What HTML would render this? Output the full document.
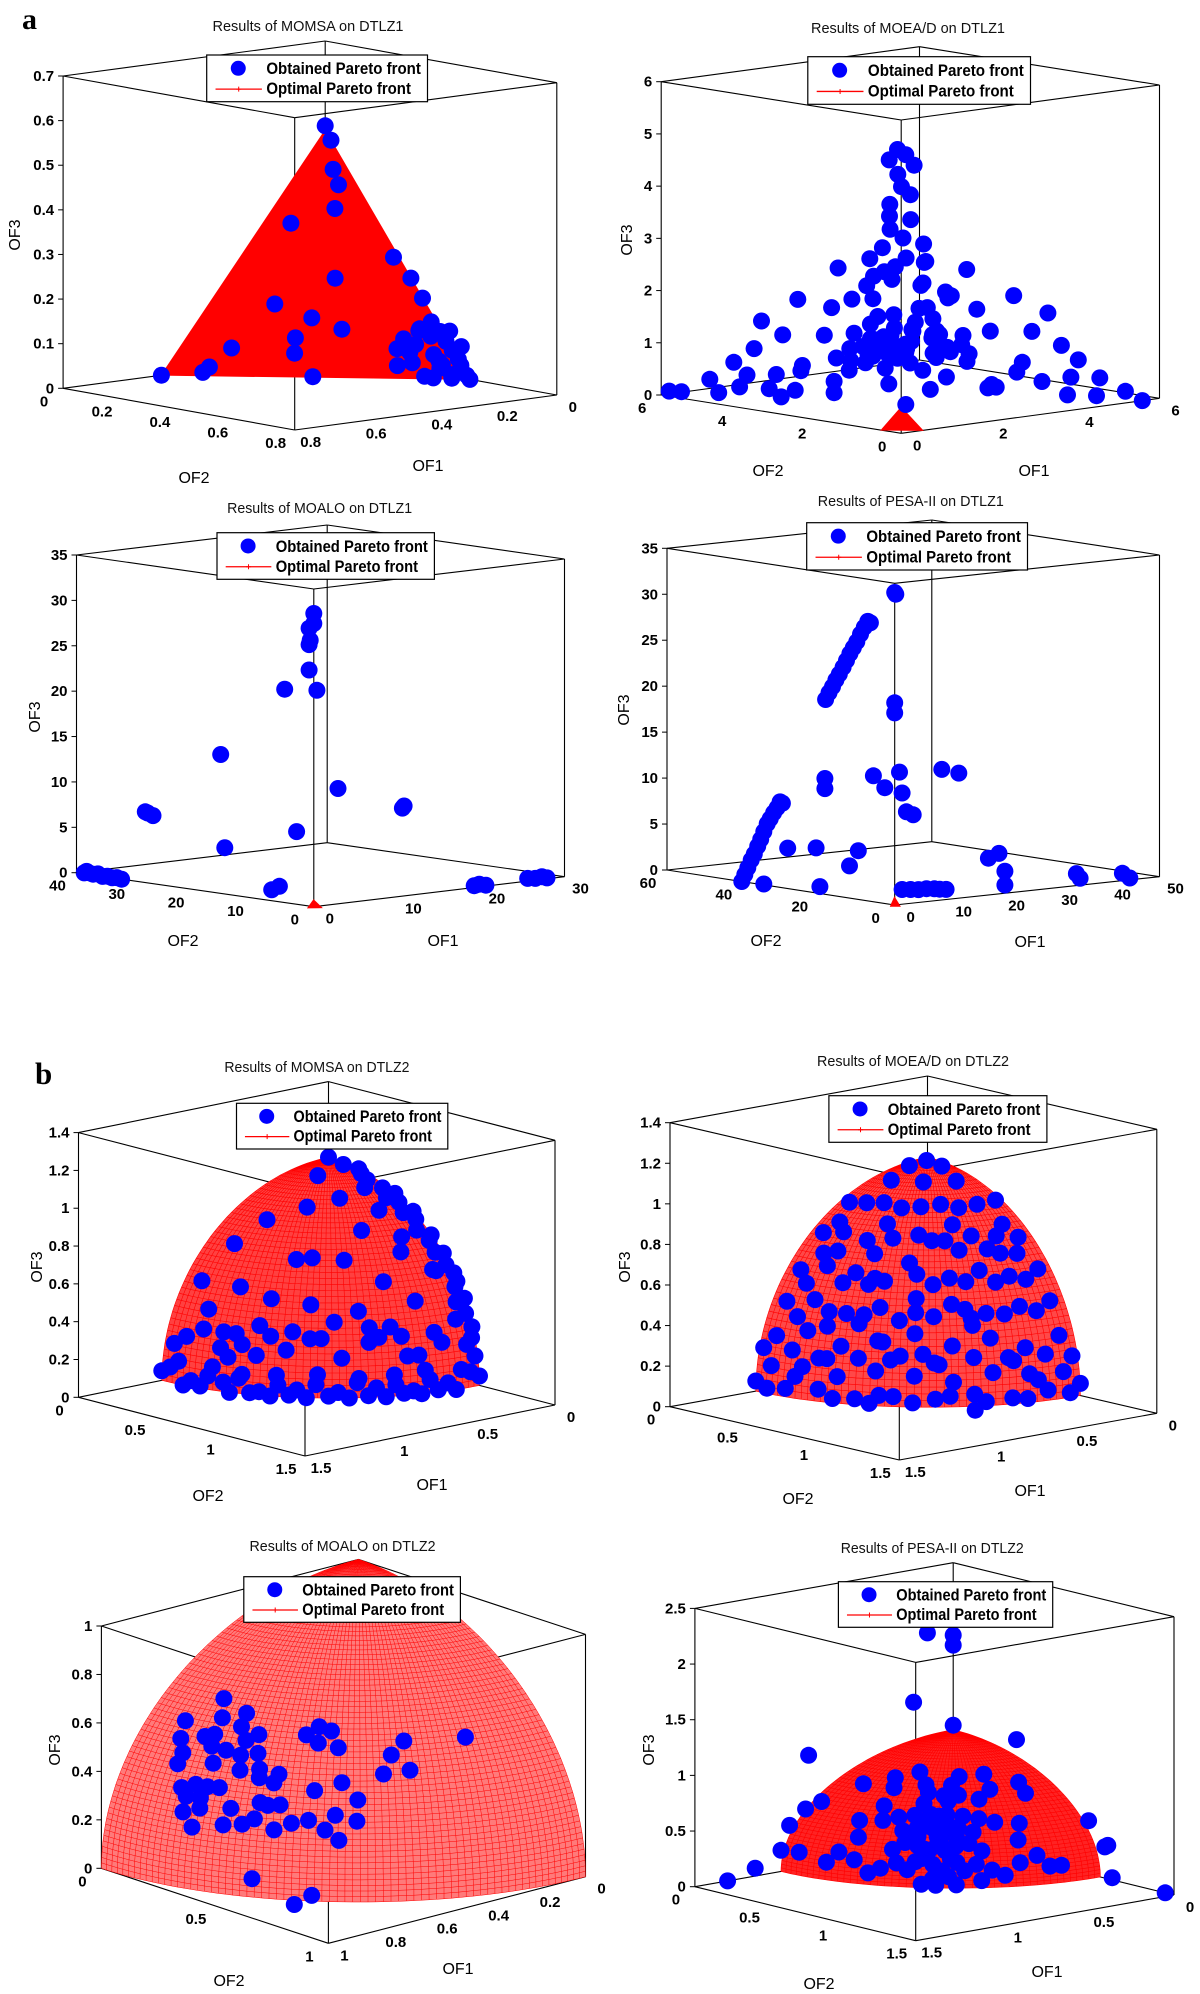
<!DOCTYPE html>
<html><head><meta charset="utf-8"><title>Pareto fronts DTLZ1 DTLZ2</title>
<style>body{margin:0;background:#fff}svg{display:block}</style></head>
<body>
<svg id="fig" xmlns="http://www.w3.org/2000/svg" width="1200" height="1994" viewBox="0 0 1200 1994" font-family="Liberation Sans, Arial, sans-serif">
<rect width="1200" height="1994" fill="#fff"/>
<text x="22" y="29" font-family="Liberation Serif, serif" font-weight="bold" font-size="30">a</text>
<text x="35" y="1084" font-family="Liberation Serif, serif" font-weight="bold" font-size="31">b</text>
</svg>
<script>
// ---------- tick arrays ----------
const a1ZTicks=[0,0.1,0.2,0.3,0.4,0.5,0.6,0.7];
const a1Of1Ticks=[0,0.2,0.4,0.6,0.8];
const a1Of2Ticks=[0,0.2,0.4,0.6,0.8];
const a2ZTicks=[0,1,2,3,4,5,6];
const a2Of1Ticks=[0,2,4,6];
const a2Of2Ticks=[0,2,4,6];
const a3ZTicks=[0,5,10,15,20,25,30,35];
const a3Of1Ticks=[0,10,20,30];
const a3Of2Ticks=[0,10,20,30,40];
const a4ZTicks=[0,5,10,15,20,25,30,35];
const a4Of1Ticks=[0,10,20,30,40,50];
const a4Of2Ticks=[0,20,40,60];
const b1ZTicks=[0,0.2,0.4,0.6,0.8,1,1.2,1.4];
const b1Of1Ticks=[0,0.5,1,1.5];
const b1Of2Ticks=[0,0.5,1,1.5];
const b2ZTicks=[0,0.2,0.4,0.6,0.8,1,1.2,1.4];
const b2Of1Ticks=[0,0.5,1,1.5];
const b2Of2Ticks=[0,0.5,1,1.5];
const b3ZTicks=[0,0.2,0.4,0.6,0.8,1];
const b3Of1Ticks=[0,0.2,0.4,0.6,0.8,1];
const b3Of2Ticks=[0,0.5,1];
const b4ZTicks=[0,0.5,1,1.5,2,2.5];
const b4Of1Ticks=[0,0.5,1,1.5];
const b4Of2Ticks=[0,0.5,1,1.5];

// ---------- obtained points [OF1, OF2, OF3] ----------
const momsaDtlz1Points=[[0,0,0.51],[0,0.02,0.48],[0.02,0.05,0.42],[0.03,0.08,0.39],[0.05,0.09,0.34],[0.14,0.04,0.31],[0.03,0.27,0.25],[0.03,0.33,0.21],[0.03,0.37,0.17],[0.12,0.17,0.2],[0.26,0.12,0.15],[0.2,0.18,0.12],[0.25,0.18,0.08],[0.17,0.25,0.1],[0.27,0.2,0.05],[0.33,0.05,0.05],[0.38,0.03,0.01],[0.4,0.03,0],[0.5,0,0],[0.25,0.24,0],
[0.05,0.4,0.0],[0.03,0.43,0.02],[0.02,0.46,0.0],[0.0,0.5,0.0],[0.01,0.48,0.03],[0.04,0.42,0.05],[0.02,0.44,0.08],[0.05,0.38,0.1],[0.03,0.4,0.12],[0.01,0.45,0.06],[0.06,0.36,0.05],[0.08,0.34,0.02],[0.0,0.47,0.07],[0.03,0.47,0.01],[0.02,0.42,0.1],[0.04,0.45,0.03],[0.07,0.38,0.03],[0.0,0.43,0.1],[0.05,0.43,0.0],[0.01,0.5,0.01],
[0.06,0.38,0.07],[0.04,0.41,0.09],[0.02,0.39,0.11],[0.07,0.35,0.08],[0.05,0.45,0.04],[0.0,0.46,0.04],[0.09,0.35,0.06],[0.03,0.36,0.1]];
const moeadDtlz1Points=[[0.1,0.2,5.4],[0.2,0.1,5.3],[0.0,0.3,5.2],[0.3,0.0,5.1],[0.2,0.3,4.9],[0.1,0.1,4.7],[0.4,0.2,4.5],[0.2,0.5,4.3],[0.5,0.3,4.0],[0.3,0.6,3.8],[0.1,0.4,4.1],[0.6,0.6,3.6],[0.4,0.9,3.4],[0.8,0.3,3.5],[0.2,1.0,3.2],[1.0,0.5,3.1],[0.7,0.9,3.0],[0.3,0.2,3.3],[0.9,1.2,2.7],[1.2,0.8,2.6],[0.5,1.4,2.6],[1.4,0.4,2.5],[0.1,0.8,2.9],[0.6,0.1,2.8],
[2.0,1.5,2.0],[1.5,2.2,1.8],[2.5,0.8,2.0],[0.8,2.6,2.0],[3.0,1.0,1.5],[1.0,3.0,1.4],[3.5,0.5,1.5],[0.5,3.5,1.4],[2.0,2.5,1.0],[2.6,2.0,1.0],[3.8,1.2,0.6],[1.2,3.8,0.6],[4.0,0.3,1.2],[0.3,4.0,1.1],[4.5,0.6,0.5],[0.6,4.5,0.5],[4.8,0.2,0.5],[0.2,5.0,0.4],[5.3,0.1,0.2],[0.1,5.6,0.1],[5.0,0.5,0.1],[0.5,5.1,0.1],[3.0,2.5,0.2],[2.5,3.0,0.3],[1.5,1.0,3.0],[1.0,1.5,2.8],[2.2,1.2,2.2],[1.2,2.0,2.2],[3.2,1.8,0.8],[1.8,3.2,0.8],[4.2,1.0,0.4],[1.0,4.2,0.5],[2.8,0.2,2.3],[0.2,2.8,2.2],[3.5,0.1,1.9],[0.1,3.6,1.7],[4.3,0.2,0.9],[0.2,4.4,0.8],[1.8,0.3,2.9],[0.3,1.9,2.9],[2.0,0.9,2.3],[0.9,2.2,2.2],[3.6,1.5,0.3],[1.6,3.4,0.4],[2.4,1.8,1.4],[1.7,2.6,1.3],[4.7,0.9,0.1],[0.8,4.9,0.2],[5.6,0.0,0.0],[0.0,5.8,0.1],[3.0,0.2,1.0],[0.4,2.9,0.9],[1.4,0.6,1.4],[0.7,1.2,1.5],[2.2,0.2,0.6],[0.3,2.0,0.5],[1.5,1.5,0.2],
[1.5,1.5,1.2],[1.0,1.2,1.4],[2.0,1.0,1.3],[1.2,2.0,1.1],[0.8,0.6,1.6],[0.5,1.0,1.5],[1.6,0.8,1.5],[2.3,1.6,1.0],[1.4,2.4,0.9],[0.9,1.8,1.2],[1.9,0.5,1.6],[0.3,1.5,1.7],[1.1,0.3,1.8],[2.6,1.1,1.1],[1.0,2.7,1.0],[2.1,0,0.7],[1.05,0,0.96],[0.5,0,1.15],[0,0.4,1.2],[0,1.3,1.05],[0,3,0.33],[0,2.65,0.5],[0,3.3,0.45],
[0.6,0.9,1.7],[0.9,0.7,1.8],[0.4,0.6,1.9],[0.7,0.4,2.0],[1.2,1.0,1.7],[0.8,1.3,1.6],[1.3,1.3,1.4],[0.6,1.6,1.4],[1.7,0.6,1.3],[0.2,0.9,1.6],[0.9,0.2,1.7],[1.8,1.8,1.2],[2.1,1.3,1.5],[1.3,2.1,1.4],[0.4,1.2,1.9],[1.2,0.5,2.0],[0.2,0.4,2.2],[0.6,0.2,2.3],[2.8,1.5,1.2],[1.5,2.9,1.1],[0.1,0.2,1.4],[0.3,0.1,1.3]];
const moaloDtlz1Points=[[0,0,32.3],[0,0,31.2],[0,0.8,30.6],[0,0.6,29.3],[0,0.8,28.8],[0,0.8,26],[0,4.9,23.5],[0.37,0,23.8],[0,15.7,15.3],[2.9,0,12.7],[10.6,0,9.7],[10.8,0,9.9],[0,28.4,7.8],[0,27.1,7.5],[0,28,7.7],[0,2.9,8],[0,15,5.1],[0,7.1,1.2],[0,5.8,1.7],
[0,38.7,0.1],[0,38,0.2],[0,37.2,0.1],[0,36.4,0.2],[0,35.6,0],[0,34.8,0.1],[0,34,0],[0,33.2,0.1],[0,32.4,0],[0,38.3,0.3],[19.2,0,0.2],[19.8,0,0.3],[20.6,0,0.1],[25.6,0,0.3],[26.5,0,0.2],[27.3,0,0.3],[27.9,0,0.1]];
const pesaDtlz1Points=[[0,0,34.0],[0.2,0,33.8],[0,0,22],[0,0,20.9],[0.9,0,14.4],[0,5.6,13.7],[0,2.6,12.6],[1.4,0,12.1],[2.2,0,10],[3.5,0,9.6],[8.9,0,14.2],[12.1,0,13.6],[0,18.4,12.6],[0,18.4,11.5],[0,9.6,5.3],[0,11.9,3.5],[0,20.7,4.9],[0,28.2,4.4],[0,19.7,0.75],[0,34.5,0.1],
[0,18.2,21.2],[0,17.3,22],[0,16.4,22.7],[0,15.5,23.5],[0,14.6,24.2],[0,13.6,25],[0,12.7,25.8],[0,11.8,26.6],[0,10.9,27.3],[0,10,28],[0,9,28.9],[0,8,29.7],[0,7.1,30.4],[0,6.4,30.3],
[0,40.3,0],[0,39.5,0.8],[0,38.7,1.6],[0,37.8,2.5],[0,37,3.2],[0,36.1,4.1],[0,35.3,4.9],[0,34.5,5.8],[0,33.6,6.7],[0,32.8,7.3],[0,31.9,8],[0,31,8.6],[0,30.2,9.3],[0,29.6,9.2],
[17.7,0,4],[19.7,0,4.4],[20.8,0,2.4],[20.8,0,0.9],[34.3,0,1.3],[35,0,0.75],[43,0,0.8],[44.4,0,0.2],
[1.4,0,1.6],[3,0,1.5],[4.5,0,1.4],[6,0,1.4],[7.5,0,1.3],[8.5,0,1.2],[9.7,0,1.1]];
const momsaDtlz2Points=[[1,0,0.05],[0.98,0.17,0.03],[0.94,0.34,0.05],[0.87,0.5,0.02],[0.77,0.64,0.04],[0.64,0.77,0.03],[0.5,0.87,0.05],[0.34,0.94,0.02],[0.17,0.98,0.04],[0,1,0.05],
[0.99,0.1,0.12],[0.95,0.28,0.12],[0.9,0.42,0.1],[0.82,0.56,0.11],[0.7,0.7,0.12],[0.56,0.82,0.1],[0.42,0.9,0.11],[0.28,0.95,0.12],[0.1,0.99,0.1],
[0.995,0.05,0.08],[0.96,0.26,0.07],[0.91,0.41,0.08],[0.82,0.57,0.06],[0.71,0.7,0.07],[0.57,0.82,0.08],[0.42,0.91,0.06],[0.26,0.96,0.07],[0.05,0.995,0.08],
[0.99,0.13,0.0],[0.97,0.22,0.01],[0.93,0.37,0.0],[0.89,0.46,0.01],[0.84,0.54,0.0],[0.79,0.61,0.01],[0.74,0.67,0.0],[0.67,0.74,0.01],[0.6,0.8,0.0],[0.53,0.85,0.01],[0.46,0.89,0.0],[0.38,0.92,0.01],[0.3,0.95,0.0],[0.22,0.97,0.01],[0.13,0.99,0.0],
[0.96,0.12,0.25],[0.9,0.3,0.3],[0.82,0.45,0.35],[0.88,0.36,0.3],[0.74,0.58,0.33],[0.66,0.68,0.3],[0.48,0.8,0.35],[0.36,0.88,0.3],[0.18,0.95,0.25],
[0.97,0.05,0.2],[0.92,0.3,0.22],[0.85,0.46,0.2],[0.6,0.75,0.2],[0.35,0.91,0.2],[0.05,0.97,0.22],[0.93,0.2,0.3],[0.8,0.5,0.3],[0.2,0.92,0.3],[0.45,0.83,0.3],
[0.02,0.97,0.25],[0.02,0.93,0.37],[0.03,0.87,0.5],[0.02,0.8,0.6],[0.03,0.7,0.71],[0.02,0.6,0.8],[0.03,0.5,0.87],[0.02,0.38,0.92],[0.03,0.25,0.97],[0.02,0.12,0.99],[0,0,1.0],[0.05,0.9,0.43],[0.04,0.75,0.66],[0.05,0.55,0.83],[0.04,0.3,0.95],[0.06,0.65,0.76],[0.06,0.45,0.89],[0,0.97,0.15],[0,0.85,0.52],
[0,0.95,0.3],[0,0.9,0.44],[0,0.83,0.56],[0,0.76,0.65],[0,0.68,0.73],[0,0.56,0.83],[0,0.44,0.9],[0,0.2,0.98],[0.08,0.93,0.35],[0.08,0.8,0.58],
[0.55,0.2,0.81],[0.7,0.15,0.7],[0.8,0.3,0.52],[0.6,0.45,0.66],[0.4,0.3,0.87],[0.3,0.55,0.78],[0.2,0.7,0.68],[0.45,0.6,0.66],[0.65,0.6,0.46],[0.35,0.75,0.56],[0.85,0.1,0.52],[0.9,0.2,0.4],[0.75,0.45,0.48],[0.5,0.75,0.43],[0.25,0.85,0.46],[0.55,0.5,0.67],[0.15,0.5,0.85],[0.25,0.35,0.9],[0.2,0.15,0.97],[0.6,0.7,0.38],[0.4,0.85,0.35],[0.88,0.4,0.25],[0.7,0.65,0.3],[0.3,0.93,0.2],[0.5,0.82,0.28],[0.78,0.58,0.24],[0.92,0.35,0.18],[0.1,0.8,0.59],[0.15,0.65,0.74],[0.1,0.35,0.93]];
const moeadDtlz2Points=[[1,0,0.05],[0.98,0.17,0.04],[0.94,0.34,0.06],[0.87,0.5,0.03],[0.77,0.64,0.05],[0.64,0.77,0.04],[0.5,0.87,0.06],[0.34,0.94,0.03],[0.17,0.98,0.05],[0,1,0.06],
[0.99,0.09,0.14],[0.96,0.26,0.16],[0.9,0.42,0.13],[0.81,0.57,0.17],[0.7,0.7,0.15],[0.57,0.81,0.12],[0.42,0.9,0.16],[0.26,0.96,0.14],[0.09,0.99,0.13],
[0.95,0.08,0.28],[0.92,0.25,0.33],[0.86,0.4,0.27],[0.78,0.55,0.31],[0.67,0.67,0.35],[0.55,0.78,0.29],[0.4,0.86,0.32],[0.25,0.92,0.26],[0.08,0.95,0.3],
[0.89,0.08,0.44],[0.86,0.23,0.47],[0.81,0.38,0.42],[0.73,0.51,0.46],[0.63,0.63,0.44],[0.51,0.73,0.48],[0.38,0.81,0.43],[0.23,0.86,0.45],[0.08,0.89,0.46],
[0.8,0.07,0.58],[0.77,0.21,0.62],[0.72,0.34,0.6],[0.66,0.46,0.57],[0.57,0.57,0.61],[0.46,0.66,0.59],[0.34,0.72,0.62],[0.21,0.77,0.58],[0.07,0.8,0.6],
[0.66,0.06,0.74],[0.64,0.17,0.76],[0.6,0.28,0.73],[0.54,0.38,0.75],[0.47,0.47,0.77],[0.38,0.54,0.74],[0.28,0.6,0.76],[0.17,0.64,0.75],[0.06,0.66,0.73],
[0.49,0.04,0.86],[0.47,0.13,0.87],[0.44,0.21,0.88],[0.4,0.28,0.86],[0.35,0.35,0.87],[0.28,0.4,0.88],[0.21,0.44,0.86],[0.13,0.47,0.87],[0.04,0.49,0.88],
[0.3,0.1,0.95],[0.22,0.22,0.95],[0.1,0.3,0.95],[0.05,0.05,1.0],[0.15,0.05,0.99],[0.05,0.15,0.99],
[0.85,0.3,0.35],[0.6,0.6,0.5],[0.7,0.4,0.55],[0.45,0.75,0.45],[0.55,0.5,0.65],[0.75,0.55,0.3],[0.35,0.6,0.7],[0.9,0.3,0.2],[0.3,0.9,0.2],[0.6,0.75,0.2],[0.75,0.6,0.22],[0.5,0.3,0.8],[0.3,0.5,0.8],[0.95,0.2,0.1],[0.2,0.95,0.1],[0.65,0.7,0.25],[0.8,0.45,0.38],[0.45,0.8,0.38],[0.1,0.6,0.79],[0.6,0.1,0.79],[0.8,0.58,0.05],[0.58,0.8,0.05],[0.7,0.2,0.68],[0.2,0.7,0.68],[0.55,0.93,0],
[0.93,0.16,0.22],[0.88,0.33,0.2],[0.83,0.48,0.22],[0.72,0.63,0.24],[0.62,0.74,0.21],[0.47,0.83,0.23],[0.33,0.9,0.22],[0.16,0.95,0.22],[0.9,0.16,0.38],[0.84,0.3,0.42],[0.77,0.45,0.42],[0.68,0.58,0.4],[0.57,0.68,0.42],[0.44,0.78,0.41],[0.3,0.84,0.42],[0.15,0.88,0.42],
[0.83,0.14,0.53],[0.76,0.3,0.55],[0.68,0.42,0.58],[0.52,0.62,0.56],[0.4,0.7,0.57],[0.28,0.76,0.56],[0.14,0.8,0.56],[0.72,0.13,0.66],[0.62,0.35,0.68],[0.42,0.5,0.74],[0.24,0.66,0.7],[0.12,0.72,0.67],
[0.98,0.05,0.02],[0.91,0.4,0.02],[0.83,0.55,0.01],[0.71,0.7,0.02],[0.45,0.89,0.02],[0.27,0.96,0.02],[0.05,0.99,0.02],[0.99,0.04,0.22],[0.04,0.99,0.2]];
const moaloDtlz2Points=[[0.7,0.2,0.68],[0.85,0.2,0.63],[0.75,0.25,0.63],[0.7,0.3,0.65],[0.72,0.3,0.6],[0.55,0.45,0.6],[0.52,0.47,0.58],[0.6,0.45,0.58],[0.58,0.48,0.55],[0.22,0.72,0.55],[0.38,0.63,0.55],[0.42,0.62,0.5],[0.4,0.68,0.45],[0.45,0.62,0.43],[0.52,0.5,0.52],[0.55,0.55,0.4],[0.55,0.62,0.35],[0.58,0.65,0.28],[0.62,0.6,0.3],[0.65,0.65,0.22],[0.66,0.6,0.25],[0.63,0.52,0.38],[0.68,0.55,0.28],[0.72,0.52,0.27],[0.77,0.5,0.25],[0.75,0.45,0.33],[0.72,0.47,0.33],[0.68,0.42,0.43],[0.7,0.42,0.4],[0.72,0.38,0.45],[0.73,0.39,0.42],[0.7,0.35,0.5],[0.67,0.32,0.56],[0.72,0.32,0.55],[0.75,0.33,0.5],[0.77,0.35,0.45],[0.78,0.3,0.52],[0.83,0.3,0.48],[0.78,0.45,0.35],[0.82,0.47,0.3],[0.85,0.45,0.28],[0.85,0.4,0.33],[0.85,0.35,0.4],[0.88,0.4,0.27],[0.87,0.32,0.4],[0.88,0.28,0.4],[0.9,0.32,0.32],[0.93,0.32,0.25],[0.93,0.28,0.3],[0.9,0.24,0.38],[0.88,0.2,0.46],[0.86,0.2,0.5],[0.85,0.18,0.55],[0.8,0.23,0.56],[0.78,0.25,0.57],[0.8,0.26,0.53],[0.9,0.55,0.1],[0.85,0.68,0.02],[0.8,0.7,0.05],[0.9,0.26,0.35],[0.88,0.3,0.35]];
const pesaDtlz2Points=[[0.45,0.3,0.84],[0.35,0.45,0.82],[0.55,0.25,0.8],[0.25,0.5,0.83],[0.5,0.4,0.77],[0.6,0.3,0.74],[0.3,0.6,0.74],[0.42,0.48,0.77],[0.65,0.15,0.74],[0.15,0.62,0.77],[0.7,0.35,0.62],[0.38,0.62,0.68],
[0.6,0.55,0.58],[0.55,0.6,0.58],[0.7,0.45,0.55],[0.45,0.7,0.55],[0.65,0.5,0.57],[0.5,0.65,0.57],[0.75,0.4,0.52],[0.4,0.75,0.52],[0.58,0.58,0.57],[0.62,0.62,0.48],[0.68,0.55,0.48],[0.55,0.68,0.48],[0.8,0.3,0.5],[0.3,0.8,0.5],[0.72,0.6,0.35],[0.6,0.72,0.35],[0.66,0.66,0.35],[0.75,0.55,0.37],[0.55,0.75,0.37],[0.85,0.35,0.38],[0.35,0.85,0.38],[0.63,0.6,0.48],[0.5,0.55,0.67],[0.58,0.48,0.65],
[0.7,0.68,0.2],[0.68,0.72,0.15],[0.75,0.62,0.22],[0.62,0.75,0.22],[0.8,0.55,0.2],[0.55,0.8,0.2],[0.72,0.7,0.08],[0.66,0.74,0.1],[0.78,0.6,0.15],[0.6,0.78,0.15],[0.9,0.38,0.2],[0.38,0.9,0.2],[0.85,0.5,0.15],[0.5,0.85,0.15],[0.95,0.25,0.15],[0.25,0.95,0.15],[0.88,0.45,0.1],[0.45,0.88,0.1],[0.7,0.7,0.02],[0.75,0.66,0.03],[0.64,0.77,0.03],[0.98,0.1,0.2],[0.2,0.97,0.15],[0.92,0.3,0.25],[0.3,0.92,0.25],
[0.64,0.64,0.42],[0.7,0.58,0.42],[0.58,0.7,0.42],[0.67,0.62,0.3],[0.62,0.67,0.3],[0.73,0.64,0.25],[0.64,0.73,0.25],[0.69,0.69,0.12],[0.78,0.5,0.3],[0.5,0.78,0.3],[0.72,0.5,0.45],[0.5,0.72,0.45],[0.6,0.62,0.4],[0.66,0.58,0.5],[0.58,0.66,0.5],[0.7,0.62,0.32],[0.62,0.7,0.32],[0.48,0.5,0.7],[0.52,0.44,0.72],[0.44,0.55,0.71],
[0.15,0,1.91],[0,0,1.85],[0,0,1.76],[0.23,0,1.31],[0,0,1.04],[0,0.43,1.05],[0.84,0,1.0],[1.31,0,0],[1.15,0,0.07],[1.0,0,0.19],[0,1.44,0],[0,1.08,0.02],[0,1.03,0.28],[0.95,0,0.4],[0.9,0.05,0.55],[0.85,0.1,0.62],[0,0.92,0.48],[0,1.05,0.3],[0.05,0.55,0.62],[0.45,0.72,0]];

// ---------- panel layout ----------
const panels=[
{key:'momsa-dtlz1',title:'Results of MOMSA on DTLZ1',tx:308,ty:31,tw:191,L:[63.1,388.3],F:[294.7,430],R:[556.8,395],h:312.3,max:[0.8,0.8,0.7],rev:true,zt:a1ZTicks,t1:a1Of1Ticks,t2:a1Of2Ticks,pts:momsaDtlz1Points,surf:'tri',leg:[206.7,55,220.8,46.7],lab3:[14,235],lab2:[194,477],lab1:[428,465]},
{key:'moead-dtlz1',title:'Results of MOEA/D on DTLZ1',tx:908,ty:33,tw:194,L:[661.2,395],F:[901.2,433.3],R:[1159.5,398.3],h:313.3,max:[6,6,6],rev:false,zt:a2ZTicks,t1:a2Of1Ticks,t2:a2Of2Ticks,pts:moeadDtlz1Points,surf:'tri',leg:[807.8,56.7,222.7,47.6],lab3:[626,240],lab2:[768,470],lab1:[1034,470]},
{key:'moalo-dtlz1',title:'Results of MOALO on DTLZ1',tx:319.6,ty:513,tw:185,L:[76.5,872.7],F:[313.8,906.7],R:[564.5,876.7],h:317.7,max:[30,40,35],rev:false,zt:a3ZTicks,t1:a3Of1Ticks,t2:a3Of2Ticks,pts:moaloDtlz1Points,surf:'tinytri',leg:[217,532.7,217.4,46.6],lab3:[34,717],lab2:[183,940],lab1:[443,940]},
{key:'pesa2-dtlz1',title:'Results of PESA-II on DTLZ1',tx:910.8,ty:506,tw:186,L:[667,870],F:[894.7,905],R:[1159.5,876.7],h:321.7,max:[50,60,35],rev:false,zt:a4ZTicks,t1:a4Of1Ticks,t2:a4Of2Ticks,pts:pesaDtlz1Points,surf:'tinytri',leg:[806.7,522.7,220.8,47.3],lab3:[623,710],lab2:[766,940],lab1:[1030,941]},
{key:'momsa-dtlz2',title:'Results of MOMSA on DTLZ2',tx:316.9,ty:1072,tw:185,L:[78.5,1397.3],F:[305,1456],R:[555,1405],h:264.7,max:[1.5,1.5,1.4],rev:true,zt:b1ZTicks,t1:b1Of1Ticks,t2:b1Of2Ticks,pts:momsaDtlz2Points,surf:'dome',fill:'#ff4040',grid:48,gw:0.6,leg:[236.5,1103.3,211.3,45.7],lab3:[36,1267],lab2:[208,1495],lab1:[432,1484]},
{key:'moead-dtlz2',title:'Results of MOEA/D on DTLZ2',tx:913,ty:1066,tw:192,L:[670,1406.7],F:[899.3,1460],R:[1156.8,1413.3],h:284,max:[1.5,1.5,1.4],rev:true,zt:b2ZTicks,t1:b2Of1Ticks,t2:b2Of2Ticks,pts:moeadDtlz2Points,surf:'dome',fill:'#ff4848',grid:48,gw:0.6,leg:[828.9,1095.7,218,46.6],lab3:[624,1267],lab2:[798,1498],lab1:[1030,1490]},
{key:'moalo-dtlz2',title:'Results of MOALO on DTLZ2',tx:342.5,ty:1551,tw:186,L:[101.4,1868.3],F:[328.4,1943.3],R:[585.5,1876.7],h:242.3,max:[1,1,1],rev:true,zt:b3ZTicks,t1:b3Of1Ticks,t2:b3Of2Ticks,pts:moaloDtlz2Points,surf:'dome',fill:'#ff7a7a',grid:70,gw:0.5,leg:[243.8,1576.7,216.6,45.6],lab3:[54,1750],lab2:[229,1980],lab1:[458,1968]},
{key:'pesa2-dtlz2',title:'Results of PESA-II on DTLZ2',tx:932.2,ty:1553,tw:183,L:[694.9,1886.7],F:[915.7,1940.7],R:[1174,1895],h:278.3,max:[1.5,1.5,2.5],rev:true,zt:b4ZTicks,t1:b4Of1Ticks,t2:b4Of2Ticks,pts:pesaDtlz2Points,surf:'dome',fill:'#ff2222',grid:48,gw:0.6,leg:[838.4,1581.7,214.3,45.6],lab3:[648,1750],lab2:[819,1983],lab1:[1047,1971]}
];

const NS='http://www.w3.org/2000/svg';
const svg=document.getElementById('fig');
function mk(tag,attrs,parent){const e=document.createElementNS(NS,tag);for(const k in attrs)e.setAttribute(k,attrs[k]);parent.appendChild(e);return e;}
function fmt(v){return String(v);}

panels.forEach(p=>{
  const [m1,m2,m3]=p.max;
  let O,e1,e2;
  if(p.rev){
    O=[p.L[0]+p.R[0]-p.F[0],p.L[1]+p.R[1]-p.F[1]];
    e1=[(p.L[0]-O[0])/m1,(p.L[1]-O[1])/m1];
    e2=[(p.R[0]-O[0])/m2,(p.R[1]-O[1])/m2];
  }else{
    O=[p.F[0],p.F[1]];
    e1=[(p.R[0]-O[0])/m1,(p.R[1]-O[1])/m1];
    e2=[(p.L[0]-O[0])/m2,(p.L[1]-O[1])/m2];
  }
  const zs=p.h/m3;
  const proj=(a,b,c)=>[O[0]+a*e1[0]+b*e2[0],O[1]+a*e1[1]+b*e2[1]-c*zs];

  const g=mk('g',{},svg);
  
  

  const bx=mk('g',{stroke:'#000','stroke-width':1.1,fill:'none'},g);
  
  
  const c0=[[0,0],[m1,0],[m1,m2],[0,m2]];
  for(let i=0;i<4;i++){
    const a=c0[i],b=c0[(i+1)%4];
    const p1=proj(a[0],a[1],0),p2=proj(b[0],b[1],0),q1=proj(a[0],a[1],m3),q2=proj(b[0],b[1],m3);
    mk('line',{x1:p1[0],y1:p1[1],x2:p2[0],y2:p2[1]},bx);
    mk('line',{x1:q1[0],y1:q1[1],x2:q2[0],y2:q2[1]},bx);
    mk('line',{x1:p1[0],y1:p1[1],x2:q1[0],y2:q1[1]},bx);
  }

  const sg=mk('g',{},g);
  
  
  if(p.surf==='tri'||p.surf==='tinytri'){
    const v=[proj(0.5,0,0),proj(0,0.5,0),proj(0,0,0.5)];
    mk('polygon',{points:v.map(q=>q.join(',')).join(' '),fill:'#ff0000',stroke:'#ff0000','stroke-width':p.surf==='tinytri'?4:1},sg);
  }else{
    const N=p.grid;let d='';
    const P=(i,j)=>{const th=i/N*Math.PI/2,ph=j/N*Math.PI/2;return proj(Math.sin(th)*Math.cos(ph),Math.sin(th)*Math.sin(ph),Math.cos(th));};
    for(let i=0;i<N;i++)for(let j=0;j<N;j++){
      let q=[P(i,j),P(i+1,j),P(i+1,j+1),P(i,j+1)];
      let ar=0;for(let k=0;k<4;k++){const u=q[k],w=q[(k+1)%4];ar+=u[0]*w[1]-w[0]*u[1];}
      if(ar<0)q.reverse();
      d+='M'+q.map(t=>t[0].toFixed(1)+','+t[1].toFixed(1)).join('L')+'Z';
    }
    mk('path',{d:d,fill:p.fill,stroke:'none'},sg);
    let gd='';
    for(let i=1;i<=N;i++){gd+='M';for(let j=0;j<=N;j++){const t=P(i,j);gd+=(j?'L':'')+t[0].toFixed(1)+','+t[1].toFixed(1);}}
    for(let j=0;j<=N;j++){gd+='M';for(let i=0;i<=N;i++){const t=P(i,j);gd+=(i?'L':'')+t[0].toFixed(1)+','+t[1].toFixed(1);}}
    mk('path',{d:gd,fill:'none',stroke:'#ff0000','stroke-width':p.gw},sg);
  }

  const pg=mk('g',{fill:'#0000ff'},g);
  
  
  p.pts.forEach(pt=>{
    const s=proj(pt[0],pt[1],pt[2]);
    const c=mk('circle',{cx:s[0].toFixed(1),cy:s[1].toFixed(1),r:8.5},pg);
    
    
  });

  const zg=mk('g',{'font-size':15,'font-weight':'bold','text-anchor':'end'},g);
  
  
  p.zt.forEach(t=>{
    const y=p.L[1]-t*zs;
    mk('line',{x1:p.L[0]-5,y1:y,x2:p.L[0],y2:y,stroke:'#000','stroke-width':1},zg);
    const tx=mk('text',{x:p.L[0]-9,y:y+5},zg);tx.textContent=fmt(t);
    
    
  });
  const g2=mk('g',{'font-size':15,'font-weight':'bold','text-anchor':'middle'},g);
  
  
  p.t2.forEach(t=>{
    const s=proj(p.rev?m1:0,t,0);
    const tx=mk('text',{x:s[0]-19,y:s[1]+18},g2);tx.textContent=fmt(t);
    
    
  });
  const g1=mk('g',{'font-size':15,'font-weight':'bold','text-anchor':'middle'},g);
  
  
  p.t1.forEach(t=>{
    const s=proj(t,p.rev?m2:0,0);
    const tx=mk('text',{x:s[0]+16,y:s[1]+17},g1);tx.textContent=fmt(t);
    
    
  });

  const l3=mk('text',{x:p.lab3[0],y:p.lab3[1],'font-size':16,'text-anchor':'middle',transform:`rotate(-90 ${p.lab3[0]} ${p.lab3[1]})`,dy:6},g);l3.textContent='OF3';
  
  
  const l2=mk('text',{x:p.lab2[0],y:p.lab2[1]+6,'font-size':16,'text-anchor':'middle'},g);l2.textContent='OF2';
  
  
  const l1=mk('text',{x:p.lab1[0],y:p.lab1[1]+6,'font-size':16,'text-anchor':'middle'},g);l1.textContent='OF1';
  
  

  const tt=mk('text',{x:p.tx,y:p.ty,'font-size':15,'text-anchor':'middle',textLength:p.tw,lengthAdjust:'spacingAndGlyphs',fill:'#111'},g);tt.textContent=p.title;
  
  

  const [lx,ly,lw,lh]=p.leg;
  const lg=mk('g',{},g);
  
  
  mk('rect',{x:lx,y:ly,width:lw,height:lh,fill:'#fff',stroke:'#000','stroke-width':1.2},lg);
  const ld=mk('circle',{cx:lx+lw*0.143,cy:ly+lh*0.285,r:7.5,fill:'#0000ff'},lg);
  
  
  const t1=mk('text',{x:lx+lw*0.27,y:ly+lh*0.41,'font-size':17,'font-weight':'bold',textLength:lw*0.70,lengthAdjust:'spacingAndGlyphs'},lg);t1.textContent='Obtained Pareto front';
  
  
  const ly2=ly+lh*0.73;
  const ln=mk('line',{x1:lx+lw*0.04,y1:ly2,x2:lx+lw*0.25,y2:ly2,stroke:'#ff0000','stroke-width':1.3},lg);
  
  
  const cxm=lx+lw*0.145;
  mk('path',{d:`M${cxm-2.5},${ly2}H${cxm+2.5}M${cxm},${ly2-2.5}V${ly2+2.5}`,stroke:'#ff0000','stroke-width':1},lg);
  const t2=mk('text',{x:lx+lw*0.27,y:ly+lh*0.84,'font-size':17,'font-weight':'bold',textLength:lw*0.655,lengthAdjust:'spacingAndGlyphs'},lg);t2.textContent='Optimal Pareto front';
  
  
});
</script>
</body></html>
